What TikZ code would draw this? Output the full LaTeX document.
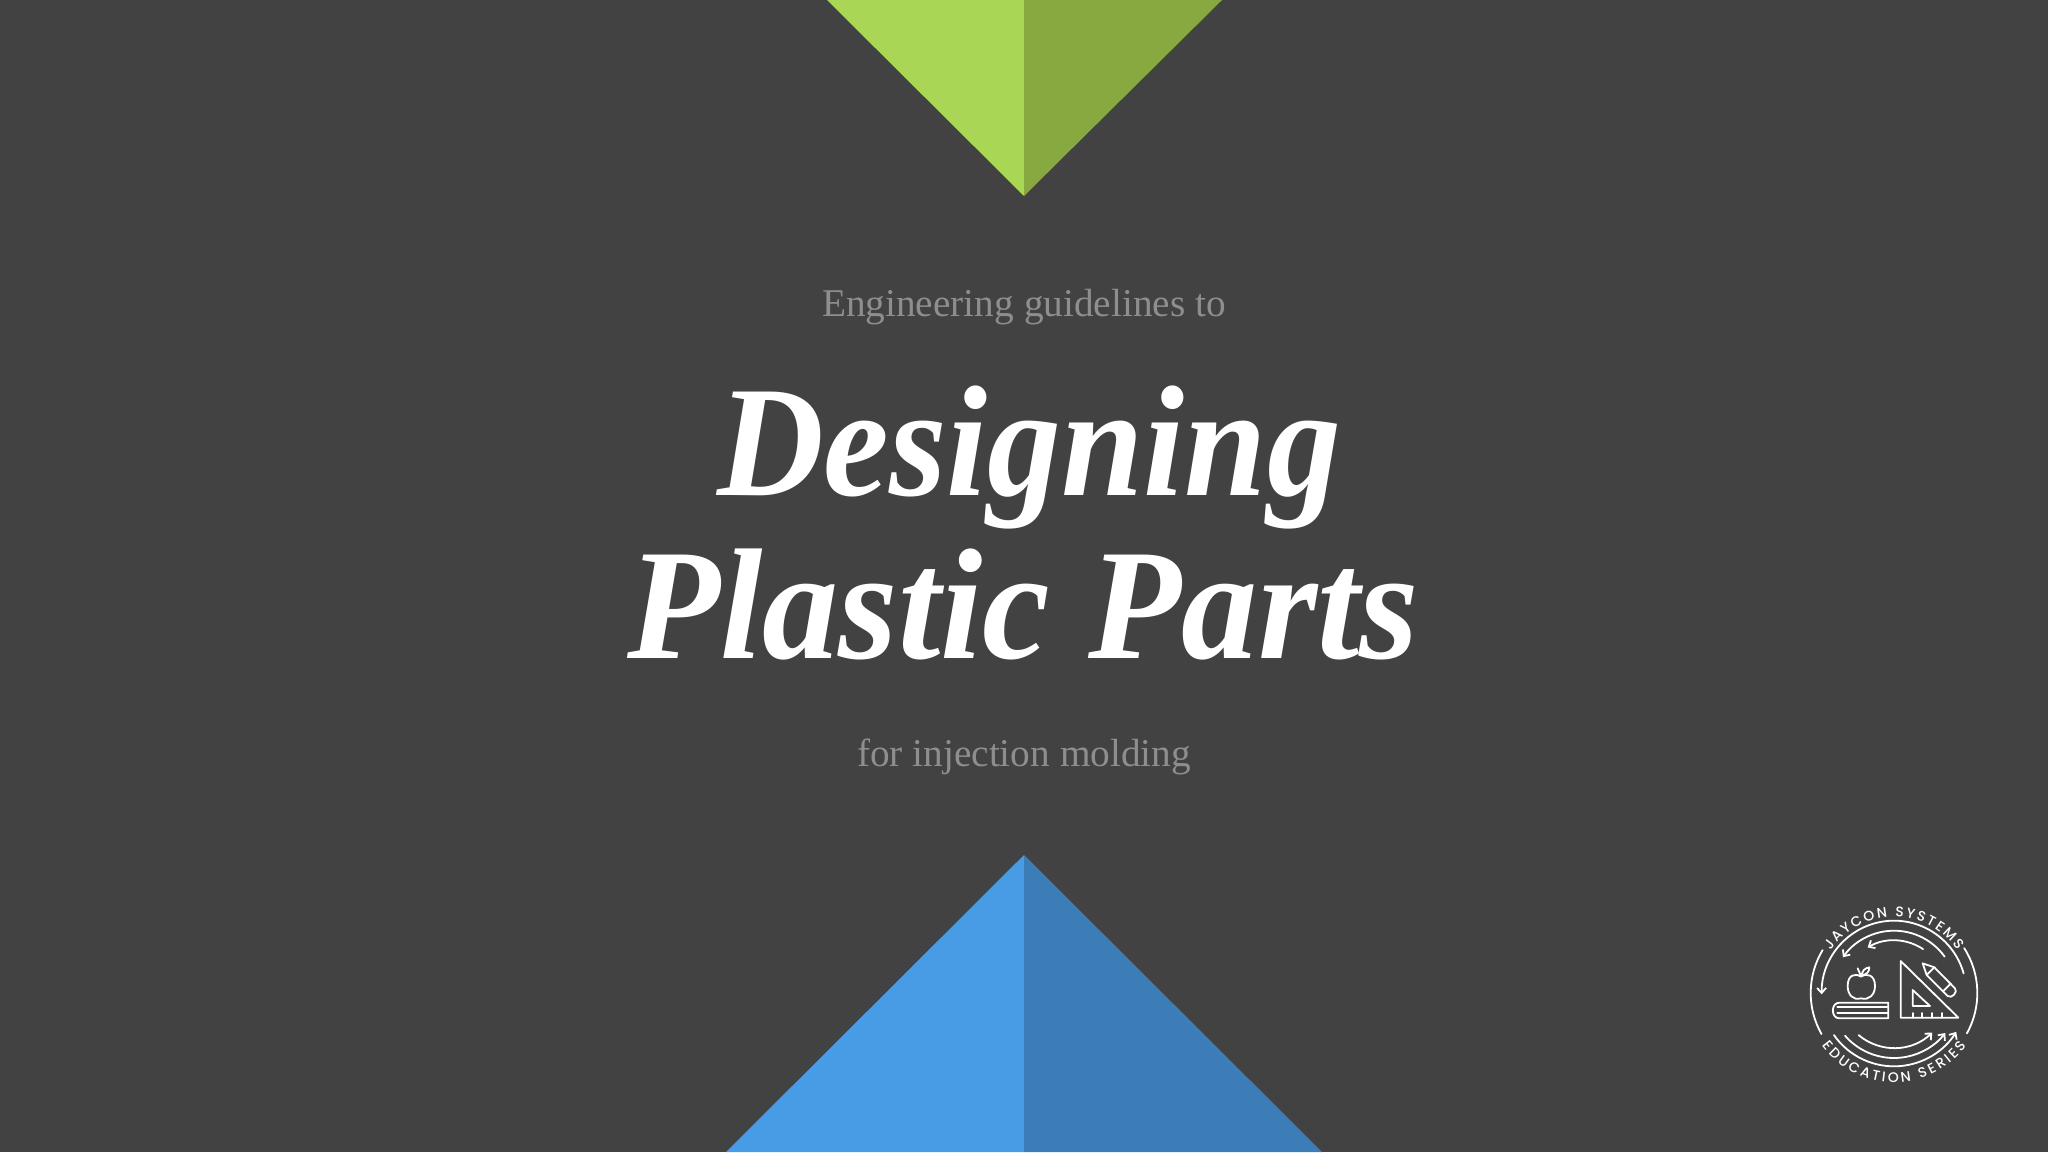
\documentclass[tikz,border=0pt]{standalone}
\usepackage{fontspec}
\setmainfont{Liberation Serif}
\newfontfamily\logofont{Poppins Medium}
\usetikzlibrary{decorations.text,arrows.meta}
\definecolor{bgdark}{RGB}{66,66,66}
\definecolor{greenlight}{RGB}{170,214,85}
\definecolor{greendark}{RGB}{136,169,64}
\definecolor{bluelight}{RGB}{71,156,229}
\definecolor{bluedark}{RGB}{60,125,184}
\definecolor{subgrey}{RGB}{142,142,142}
\tikzset{
  subtitle/.style={text=subgrey,font=\fontsize{39.3}{39.3}\selectfont},
  maintitle/.style={text=white,font=\fontsize{158}{158}\selectfont\bfseries\itshape},
  logoline/.style={draw=white,line width=1.8pt,line cap=round,line join=round},
  logoarrow/.style={logoline,-{Straight Barb[length=5pt,width=9pt,line width=1.8pt]}},
}
\begin{document}
\begin{tikzpicture}[x=1pt,y=-1pt]
\useasboundingbox (0,0) rectangle (2048,1152);
\fill[bgdark] (0,0) rectangle (2048,1152);
% triangles
\fill[greenlight] (827,0) -- (1024,196) -- (1024,0) -- cycle;
\fill[greendark] (1222,0) -- (1024,196) -- (1024,0) -- cycle;
\fill[bluelight] (726,1152) -- (1024,855) -- (1024,1152) -- cycle;
\fill[bluedark] (1322,1152) -- (1024,855) -- (1024,1152) -- cycle;
% text
\node[subtitle] (intro) at (1024,307) {Engineering guidelines to};
\node[maintitle,xscale=0.935] (designing) at (1029,457) {Designing};
\node[maintitle,xscale=0.965] (plastic) at (1023,604) {Plastic Parts};
\node[subtitle] (outro) at (1024,757) {for injection molding};
% logo rings
\begin{scope}[shift={(1894,993)},x=0.3333pt,y=0.3333pt]
\draw[logoline] (149:250) arc[start angle=149,end angle=209.5,radius=250];
\draw[logoline] (32.6:250) arc[start angle=32.6,end angle=-29,radius=250];
\draw[logoarrow] (15.7:217) arc[start angle=15.7,end angle=181,radius=217];
\draw[logoarrow] (35.7:187) arc[start angle=35.7,end angle=145,radius=187];
\draw[logoarrow] (56.5:158) arc[start angle=56.5,end angle=120,radius=158];
\draw[logoarrow] (215:220) arc[start angle=215,end angle=328,radius=220];
\draw[logoarrow] (221:195) arc[start angle=221,end angle=322,radius=195];
\draw[logoarrow] (230:165) arc[start angle=230,end angle=314,radius=165];
\path[decorate,decoration={text along path,text align={fit to path},
  text={|\logofont\fontsize{14}{14}\selectfont\color{white}|JAYCON SYSTEMS}}]
  (146:229) arc[start angle=146,end angle=34,radius=229];
\path[decorate,decoration={text along path,text align={fit to path},
  text={|\logofont\fontsize{14}{14}\selectfont\color{white}|EDUCATION SERIES}}]
  (216:268) arc[start angle=216,end angle=324,radius=268];
\end{scope}
% logo icons
\begin{scope}[shift={(1780,880)},x=0.3333pt,y=-0.3333pt]
% apple
\draw[logoline] (243,290) .. controls (225,278) and (203,285) .. (203,318)
  .. controls (203,345) and (220,362) .. (243,355)
  .. controls (266,362) and (285,345) .. (285,318)
  .. controls (285,285) and (261,278) .. (243,290);
\draw[logoline] (243,288) -- (233,265);
\draw[logoline] (245,285) .. controls (247,272) and (255,264) .. (268,262)
  .. controls (268,276) and (259,285) .. (245,285);
% book
\draw[logoline] (325,368) -- (178,368) .. controls (152,368) and (152,415) .. (178,415) -- (325,415) -- cycle;
\draw[logoline] (172,382) -- (322,382);
\draw[logoline] (172,400) -- (322,400);
% set square
\draw[logoline] (362,243) -- (362,413) -- (535,413) -- cycle;
\draw[logoline] (398,330) -- (398,378) -- (450,378) -- cycle;
\foreach \tickx in {398,427,455,485}
  \draw[logoline] (\tickx,413) -- (\tickx,399);
% pencil
\draw[logoline] (428,250) -- (463,262) -- (525,325)
  .. controls (535,335) and (515,358) .. (503,348) -- (440,285) -- cycle;
\draw[logoline] (440,285) -- (463,262);
\draw[logoline] (490,333) -- (512,311);
\end{scope}
\end{tikzpicture}
\end{document}
